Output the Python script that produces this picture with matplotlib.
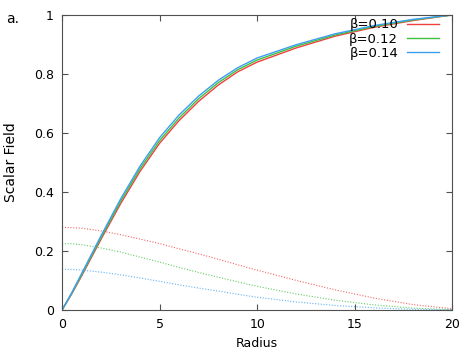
import numpy as np
import matplotlib.pyplot as plt

# radius samples
r = [0, 0.5, 1, 2, 3, 4, 5, 6, 7, 8, 9, 10, 12, 14, 16, 18, 20]

# solid curves (field)
field_010 = [0, 0.055, 0.115, 0.24, 0.36, 0.47, 0.565, 0.642, 0.707, 0.762, 0.807, 0.84, 0.888, 0.928, 0.958, 0.981, 1.0]
field_012 = [0, 0.057, 0.119, 0.246, 0.368, 0.479, 0.574, 0.651, 0.716, 0.77, 0.814, 0.847, 0.894, 0.932, 0.961, 0.983, 1.0]
field_014 = [0, 0.059, 0.123, 0.252, 0.376, 0.488, 0.584, 0.661, 0.725, 0.778, 0.821, 0.854, 0.899, 0.936, 0.964, 0.985, 1.0]

# dotted curves
dot_010 = [0.28, 0.279, 0.277, 0.268, 0.255, 0.24, 0.225, 0.207, 0.19, 0.172, 0.153, 0.135, 0.1, 0.068, 0.04, 0.018, 0.004]
dot_012 = [0.225, 0.224, 0.221, 0.21, 0.196, 0.179, 0.162, 0.144, 0.127, 0.111, 0.095, 0.08, 0.054, 0.033, 0.017, 0.006, 0.001]
dot_014 = [0.138, 0.137, 0.135, 0.128, 0.119, 0.108, 0.097, 0.085, 0.074, 0.064, 0.053, 0.043, 0.027, 0.015, 0.007, 0.002, 0.0]

labels = ['β=0.10', 'β=0.12', 'β=0.14']
colors = ['#f04040', '#40c040', '#3c9ff0']

fig = plt.figure(figsize=(4.74, 3.55), dpi=100)
ax = fig.add_axes([0.131, 0.127, 0.823, 0.831])

for f, d, c, lab in zip([field_010, field_012, field_014], [dot_010, dot_012, dot_014], colors, labels):
    ax.plot(r, f, color=c, lw=1.0, label=lab)
    ax.plot(r, d, color=c, lw=0.8, ls=(0, (1, 1.5)), alpha=0.8)

ax.set_xlim(0, 20)
ax.set_ylim(0, 1)
ax.set_xticks([0, 5, 10, 15, 20])
ax.set_yticks([0, 0.2, 0.4, 0.6, 0.8, 1])
ax.set_yticklabels(['0', '0.2', '0.4', '0.6', '0.8', '1'])
ax.tick_params(direction='in', top=True, right=True, labelsize=9, length=4, color='#505050', pad=6)
for s in ax.spines.values():
    s.set_color('#505050')

ax.set_xlabel('Radius', fontsize=9, labelpad=4)
ax.set_ylabel('Scalar Field', fontsize=10, labelpad=11)
fig.text(0.012, 0.935, 'a.', fontsize=10)

ax.legend(loc='upper right', bbox_to_anchor=(0.99, 1.02), frameon=False, markerfirst=False,
          fontsize=9.5, handlelength=2.4, labelspacing=0.1, handletextpad=0.7, borderaxespad=0.3)

fig.savefig('out.png', dpi=100)
